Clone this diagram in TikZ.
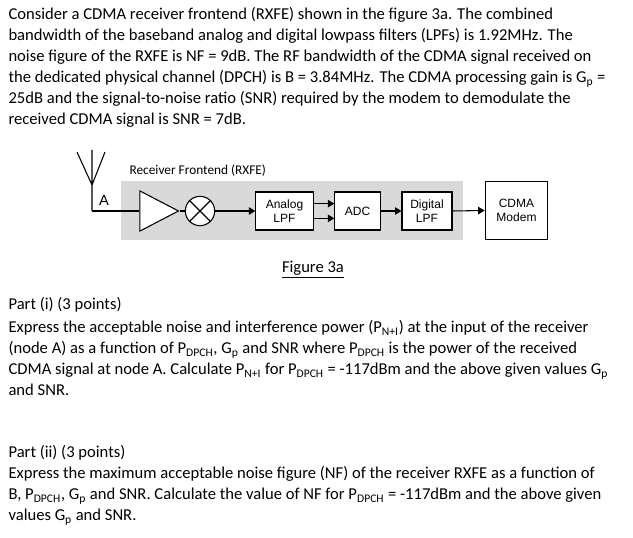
\documentclass[tikz,border=0pt]{standalone}
\usepackage{fontspec}
\setmainfont{Carlito}
\newfontfamily\diagf{Liberation Sans}
\usetikzlibrary{arrows.meta,positioning,shapes.geometric}
\newcommand{\sbs}[1]{\textsubscript{#1}}
\begin{document}
\begin{tikzpicture}[x=0.75pt, y=-0.75pt, >=Triangle,
  txt/.style={anchor=base west, inner sep=0pt, font=\fontsize{12.45}{14}\selectfont},
  blk/.style={draw, thick, fill=white, minimum height=28.5pt, align=center, inner sep=0pt, font=\diagf\fontsize{9}{10}\selectfont},
  every path/.style={thick}]
\useasboundingbox (0,0) rectangle (633,538);

% question text
\node[txt] (l1) at (8,20) {Consider a CDMA receiver frontend (RXFE) shown in the figure 3a. The combined};
\node[txt] (l2) at (8,41) {bandwidth of the baseband analog and digital lowpass filters (LPFs) is 1.92MHz. The};
\node[txt] (l3) at (8,62) {noise figure of the RXFE is NF = 9dB. The RF bandwidth of the CDMA signal received on};
\node[txt] (l4) at (8,83) {the dedicated physical channel (DPCH) is B = 3.84MHz. The CDMA processing gain is G\sbs{p} =};
\node[txt] (l5) at (8,104) {25dB and the signal-to-noise ratio (SNR) required by the modem to demodulate the};
\node[txt] (l6) at (8,125) {received CDMA signal is SNR = 7dB.};

% block diagram
\fill[gray!30] (121,181) rectangle (463,240);
\node[anchor=base west, inner sep=0pt, font=\fontsize{10}{11}\selectfont] (rxfe) at (129,175) {Receiver Frontend (RXFE)};
\coordinate (ant) at (92,185);
\coordinate (corner) at (92,211);
\draw (77,152) -- (ant) -- (105,152) (92,150) -- (corner);
\node[font=\diagf\fontsize{11}{12}\selectfont, inner sep=0pt] (A) at (104,200) {A};
\node[draw, thick, fill=white, isosceles triangle, isosceles triangle apex angle=55, minimum height=29pt, inner sep=0pt] (amp) at (152,211) {};
\node[draw, thick, fill=white, circle, minimum size=22pt, inner sep=0pt] (mix) at (200,211) {};
\draw (mix.north west) -- (mix.south east) (mix.north east) -- (mix.south west);
\node[blk, minimum width=43pt] (alpf) at (284.5,211) {Analog\\LPF};
\node[blk, minimum width=34pt] (adc) at (357.5,211) {ADC};
\node[blk, minimum width=37.5pt] (dlpf) at (427,211) {Digital\\LPF};
\node[blk, minimum width=47pt, minimum height=44pt] (modem) at (516.5,210.5) {CDMA\\Modem};
\draw (corner) -- (amp.west);
\draw (amp.east) -- (mix.west);
\draw[->] (mix.east) -- (alpf.west);
\draw[->] ([yshift=-5.5pt]alpf.east) -- ([yshift=-5.5pt]adc.west);
\draw[->] ([yshift=5.5pt]alpf.east) -- ([yshift=5.5pt]adc.west);
\draw[->] (adc.east) -- (dlpf.west);
\draw[->] (dlpf.east) -- (modem.west);
\node[anchor=base, inner sep=0pt, font=\fontsize{12.45}{14}\selectfont] (fig) at (313,273) {\underline{Figure 3a}};

% part (i)
\node[txt] (p1) at (8,310) {Part (i) (3 points)};
\node[txt] (p2) at (8,333) {Express the acceptable noise and interference power (P\sbs{N+I}) at the input of the receiver};
\node[txt] (p3) at (8,354) {(node A) as a function of P\sbs{DPCH}, G\sbs{p} and SNR where P\sbs{DPCH} is the power of the received};
\node[txt] (p4) at (8,375) {CDMA signal at node A. Calculate P\sbs{N+I} for P\sbs{DPCH} = -117dBm and the above given values G\sbs{p}};
\node[txt] (p5) at (8,396) {and SNR.};

% part (ii)
\node[txt] (q1) at (8,458) {Part (ii) (3 points)};
\node[txt] (q2) at (8,479) {Express the maximum acceptable noise figure (NF) of the receiver RXFE as a function of};
\node[txt] (q3) at (8,500) {B, P\sbs{DPCH}, G\sbs{p} and SNR. Calculate the value of NF for P\sbs{DPCH} = -117dBm and the above given};
\node[txt] (q4) at (8,521) {values G\sbs{p} and SNR.};
\end{tikzpicture}
\end{document}
